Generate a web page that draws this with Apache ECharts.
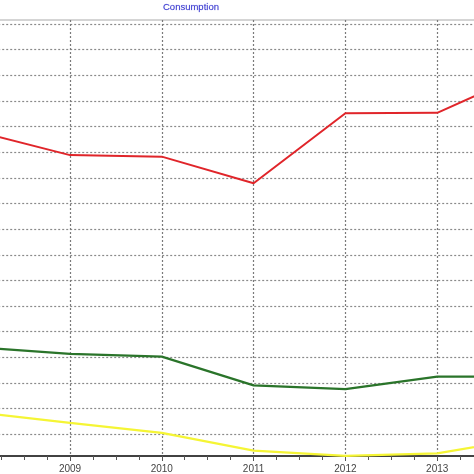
<!DOCTYPE html>
<html>
<head>
<meta charset="utf-8">
<script src="https://cdn.jsdelivr.net/npm/echarts@6/dist/echarts.min.js"></script>
<style>html,body{margin:0;padding:0;background:#fff}#c{width:474px;height:474px}</style>
</head>
<body>
<div id="c"></div>
<script>
const years = [2008, 2009, 2010, 2011, 2012, 2013, 2014];
const redSeries = [11.80, 10.89, 10.83, 9.79, 12.52, 12.54, 14.13];
const greenSeries = [3.39, 3.14, 3.03, 1.91, 1.76, 2.25, 2.25];
const yellowSeries = [0.85, 0.45, 0.06, -0.64, -0.84, -0.74, -0.14];
const titleText = 'Consumption';

const pair = arr => years.map((y, i) => [y, arr[i]]);
const chart = echarts.init(document.getElementById('c'), null, {renderer: 'canvas'});
chart.setOption({
  animation: false,
  backgroundColor: '#fff',
  title: {
    text: titleText, left: 163, top: 2, padding: 0,
    textStyle: {color: '#3a3ad0', fontSize: 9.5, fontWeight: 'normal', fontFamily: 'Liberation Sans, Arial, sans-serif', textBorderColor: 'rgba(58,58,208,0.35)', textBorderWidth: 0.4}
  },
  grid: [
    {left: -21.8, right: -55, top: 20, bottom: 18, show: true, borderColor: '#aaa', borderWidth: 1, backgroundColor: 'transparent', outerBoundsMode: 'none', containLabel: false},
    {left: -21.8, right: -55, top: 24, bottom: 39.7, show: false, outerBoundsMode: 'none', containLabel: false}
  ],
  xAxis: [
    {
      gridIndex: 0, type: 'value', min: 2008, max: 2014, interval: 1,
      axisLine: {show: true, onZero: false, lineStyle: {color: '#111', width: 1.5}},
      axisTick: {show: true, length: 5, lineStyle: {color: '#555'}},
      minorTick: {show: true, splitNumber: 4, length: 4, lineStyle: {color: '#555'}},
      axisLabel: {color: '#444', fontSize: 10, margin: 8, fontFamily: 'Liberation Sans, Arial, sans-serif', formatter: v => String(Math.round(v))},
      splitLine: {show: true, lineStyle: {color: '#7a7a7a', type: [2, 2], width: 1.2}}
    },
    {gridIndex: 1, type: 'value', min: 2008, max: 2014, show: false}
  ],
  yAxis: [
    {gridIndex: 0, type: 'value', min: -0.846, max: 16.16, show: false, splitLine: {show: false}},
    {
      gridIndex: 1, type: 'value', min: 0, max: 16, interval: 1,
      axisLine: {show: false}, axisTick: {show: false}, axisLabel: {show: false},
      splitLine: {show: true, lineStyle: {color: '#8a8a8a', type: [2, 2], width: 1.2}}
    }
  ],
  series: [
    {type: 'line', xAxisIndex: 0, yAxisIndex: 0, data: pair(yellowSeries), symbol: 'none', lineStyle: {color: '#f5f535', width: 2.3}},
    {type: 'line', xAxisIndex: 0, yAxisIndex: 0, data: pair(greenSeries), symbol: 'none', lineStyle: {color: '#2a742a', width: 2.2}},
    {type: 'line', xAxisIndex: 0, yAxisIndex: 0, data: pair(redSeries), symbol: 'none', lineStyle: {color: '#e0252a', width: 2}}
  ]
});
</script>
</body>
</html>
